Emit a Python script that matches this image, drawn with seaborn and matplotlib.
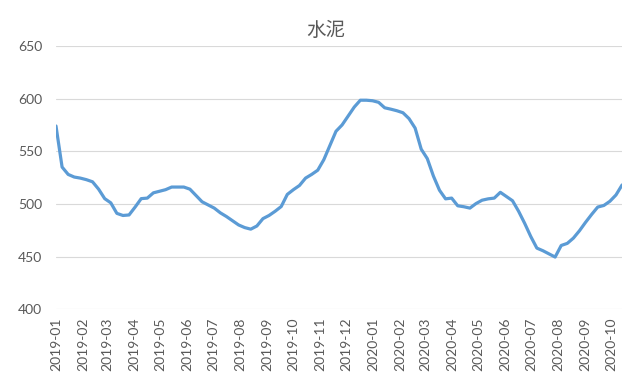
import pandas as pd
import seaborn as sns
import matplotlib.pyplot as plt
import matplotlib.dates as mdates

# weekly cement price index
start_date = '2019-01-01'
n_weeks = 94
cement = [
    574, 535, 528, 525.5, 524.5, 523, 521, 514, 505, 501,
    491, 489, 489.5, 497, 505, 505.5, 510.5, 512, 513.5, 516,
    516, 516, 514, 508, 502, 499, 496, 491.5, 488, 484,
    480, 477.5, 476, 479, 486, 489, 493, 497.5, 509, 513.5,
    517.5, 524.5, 528, 532, 542, 555.5, 569, 575, 583.5, 592,
    598.5, 598.5, 598, 596.5, 591.3, 590, 588.5, 586.6, 581, 572,
    552, 543, 526.5, 513, 504.8, 505.5, 498.2, 497.3, 496, 500.3,
    503.5, 504.8, 505.5, 511, 507, 503, 493, 481.5, 469, 458,
    455.5, 452.5, 449.5, 460.5, 462.5, 467.5, 474.5, 482.5, 490, 497,
    498.5, 502.5, 508.5, 518,
]
y_ticks = [400, 450, 500, 550, 600, 650]
title = '水泥'

dates = pd.date_range(start_date, periods=n_weeks, freq='7D')
df = pd.DataFrame({'date': dates, 'value': cement})

sns.set_theme(style='white')
plt.rcParams['font.family'] = ['Lato', 'DejaVu Sans']

fig, ax = plt.subplots(figsize=(6.4, 3.85), dpi=100)
fig.subplots_adjust(left=0.0875, right=0.972, top=0.8805, bottom=0.197)

sns.lineplot(data=df, x='date', y='value', ax=ax, color='#5B9BD5', linewidth=2.3)

ax.set_xlim(dates[0], dates[-1])
ax.set_ylim(400, 650)
ax.set_yticks(y_ticks)
ax.xaxis.set_major_locator(mdates.MonthLocator())
ax.xaxis.set_major_formatter(mdates.DateFormatter('%Y-%m'))
plt.setp(ax.get_xticklabels(), rotation=90)

ax.grid(axis='y', color='#D9D9D9', linewidth=0.8)
ax.set_axisbelow(True)
for s in ax.spines.values():
    s.set_visible(False)
ax.tick_params(axis='both', length=0, labelsize=10, colors='#595959')
ax.tick_params(axis='y', pad=10)
ax.tick_params(axis='x', pad=6)
ax.set_xlabel('')
ax.set_ylabel('')

fig.text(0.509, 0.922, title, ha='center', va='center', fontsize=14,
         color='#595959', family=['Noto Sans CJK SC', 'DejaVu Sans'])

plt.savefig('out.png', dpi=100)
